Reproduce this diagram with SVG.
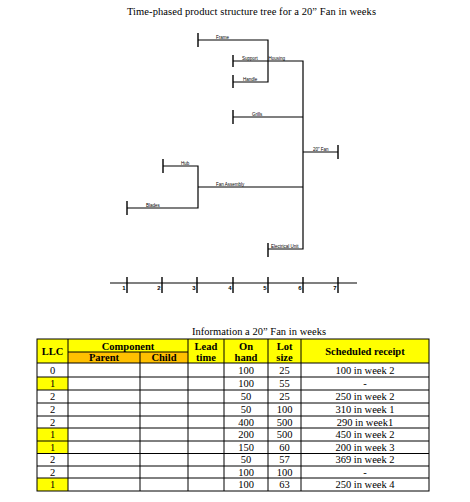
<svg xmlns="http://www.w3.org/2000/svg" width="470" height="502" viewBox="0 0 470 502">
<style>
.ln{stroke:#000;stroke-width:1.2;fill:none}
.bar{stroke:#000;stroke-width:1.4}
.lb{font-family:"Liberation Sans",Arial,sans-serif;font-size:4.5px;fill:#000}
.tk{font-family:"Liberation Sans",Arial,sans-serif;font-size:6px;font-weight:bold;fill:#000;text-anchor:end}
.ti{font-family:"Liberation Serif","Times New Roman",serif;font-size:10.5px;fill:#000}
.th{font-family:"Liberation Serif","Times New Roman",serif;font-size:10.5px;font-weight:bold;fill:#000;text-anchor:middle}
.td{font-family:"Liberation Serif","Times New Roman",serif;font-size:10.5px;fill:#000;text-anchor:middle}
.g{stroke:#000;stroke-width:1;fill:none}
</style>
<rect width="470" height="502" fill="#fff"/>
<text class="ti" x="127" y="15" textLength="249">Time-phased product structure tree for a 20” Fan in weeks</text>

<g id="connectors">
<polyline class="ln" points="198,40 268,40 268,82 233,82"/>
<polyline class="ln" points="233,61 303,61 303,249 268,249"/>
<line class="ln" x1="233" y1="117" x2="303" y2="117"/>
<line class="ln" x1="303" y1="152" x2="338" y2="152"/>
<line class="ln" x1="198" y1="187" x2="303" y2="187"/>
<polyline class="ln" points="163,166 198,166 198,208 127,208"/>
</g>

<g id="frame"><line class="bar" x1="198" y1="33" x2="198" y2="47"/><text class="lb" x="216" y="38.5">Frame</text></g>
<g id="support"><line class="bar" x1="233" y1="55" x2="233" y2="67"/><text class="lb" x="242" y="59.5">Support</text></g>
<g id="housing"><text class="lb" x="268.5" y="59.5">Housing</text></g>
<g id="handle"><line class="bar" x1="233" y1="75" x2="233" y2="88"/><text class="lb" x="243" y="80.5">Handle</text></g>
<g id="grills"><line class="bar" x1="233" y1="110" x2="233" y2="124"/><text class="lb" x="252" y="115.5">Grills</text></g>
<g id="fan20"><line class="bar" x1="338" y1="145" x2="338" y2="159"/><text class="lb" x="313" y="150.5">20" Fan</text></g>
<g id="hub"><line class="bar" x1="163" y1="159" x2="163" y2="173"/><text class="lb" x="181" y="164.5">Hub</text></g>
<g id="fanassembly"><text class="lb" x="216" y="185.5">Fan Assembly</text></g>
<g id="blades"><line class="bar" x1="127" y1="201" x2="127" y2="215"/><text class="lb" x="146" y="206.5">Blades</text></g>
<g id="electrical"><line class="bar" x1="268" y1="243" x2="268" y2="257"/><text class="lb" x="271" y="247.5">Electrical Unit</text></g>

<g id="timeline">
<line class="ln" x1="110" y1="283" x2="357" y2="283"/>
<g class="bar">
<line x1="127" y1="277" x2="127" y2="293"/>
<line x1="162" y1="277" x2="162" y2="293"/>
<line x1="197" y1="277" x2="197" y2="293"/>
<line x1="233" y1="277" x2="233" y2="293"/>
<line x1="268" y1="277" x2="268" y2="293"/>
<line x1="303" y1="277" x2="303" y2="293"/>
<line x1="338" y1="277" x2="338" y2="293"/>
</g>
<text class="tk" x="125.5" y="290">1</text>
<text class="tk" x="160.5" y="290">2</text>
<text class="tk" x="195.5" y="290">3</text>
<text class="tk" x="231.5" y="290">4</text>
<text class="tk" x="266.5" y="290">5</text>
<text class="tk" x="301.5" y="290">6</text>
<text class="tk" x="336.5" y="290">7</text>
</g>

<text class="ti" x="192" y="335" textLength="134">Information a 20” Fan in weeks</text>

<g id="table">
<rect x="37" y="339" width="392" height="24" fill="#FFFF00"/>
<rect x="68" y="352" width="120" height="11" fill="#FFC000"/>
<g fill="#FFFF00">
<rect x="37" y="377" width="31" height="13"/>
<rect x="37" y="428" width="31" height="13"/>
<rect x="37" y="441" width="31" height="12.5"/>
<rect x="37" y="478" width="31" height="13"/>
</g>
<g class="g">
<rect x="37" y="339" width="392" height="152"/>
<line x1="68" y1="352" x2="188" y2="352"/>
<line x1="37" y1="363" x2="429" y2="363"/>
<line x1="37" y1="377" x2="429" y2="377"/>
<line x1="37" y1="390" x2="429" y2="390"/>
<line x1="37" y1="403" x2="429" y2="403"/>
<line x1="37" y1="416" x2="429" y2="416"/>
<line x1="37" y1="428" x2="429" y2="428"/>
<line x1="37" y1="441" x2="429" y2="441"/>
<line x1="37" y1="453.5" x2="429" y2="453.5"/>
<line x1="37" y1="466" x2="429" y2="466"/>
<line x1="37" y1="478" x2="429" y2="478"/>
<line x1="68" y1="339" x2="68" y2="491"/>
<line x1="140" y1="352" x2="140" y2="491"/>
<line x1="188" y1="339" x2="188" y2="491"/>
<line x1="224" y1="339" x2="224" y2="491"/>
<line x1="268" y1="339" x2="268" y2="491"/>
<line x1="301" y1="339" x2="301" y2="491"/>
</g>
<text class="th" x="52.5" y="355">LLC</text>
<text class="th" x="128" y="349.5">Component</text>
<text class="th" x="104" y="361">Parent</text>
<text class="th" x="164" y="361">Child</text>
<text class="th" x="206" y="349.5">Lead</text>
<text class="th" x="206" y="361">time</text>
<text class="th" x="246" y="349.5">On</text>
<text class="th" x="246" y="361">hand</text>
<text class="th" x="284.5" y="349.5">Lot</text>
<text class="th" x="284.5" y="361">size</text>
<text class="th" x="365" y="355">Scheduled receipt</text>

<g class="td">
<text x="52.5" y="374">0</text><text x="246" y="374">100</text><text x="284.5" y="374">25</text><text x="365" y="374">100 in week 2</text>
<text x="52.5" y="387">1</text><text x="246" y="387">100</text><text x="284.5" y="387">55</text><text x="365" y="387">-</text>
<text x="52.5" y="400">2</text><text x="246" y="400">50</text><text x="284.5" y="400">25</text><text x="365" y="400">250 in week 2</text>
<text x="52.5" y="413">2</text><text x="246" y="413">50</text><text x="284.5" y="413">100</text><text x="365" y="413">310 in week 1</text>
<text x="52.5" y="425.5">2</text><text x="246" y="425.5">400</text><text x="284.5" y="425.5">500</text><text x="365" y="425.5">290 in week1</text>
<text x="52.5" y="438">1</text><text x="246" y="438">200</text><text x="284.5" y="438">500</text><text x="365" y="438">450 in week 2</text>
<text x="52.5" y="450.5">1</text><text x="246" y="450.5">150</text><text x="284.5" y="450.5">60</text><text x="365" y="450.5">200 in week 3</text>
<text x="52.5" y="463">2</text><text x="246" y="463">50</text><text x="284.5" y="463">57</text><text x="365" y="463">369 in week 2</text>
<text x="52.5" y="475.5">2</text><text x="246" y="475.5">100</text><text x="284.5" y="475.5">100</text><text x="365" y="475.5">-</text>
<text x="52.5" y="488">1</text><text x="246" y="488">100</text><text x="284.5" y="488">63</text><text x="365" y="488">250 in week 4</text>
</g>
</g>
</svg>
